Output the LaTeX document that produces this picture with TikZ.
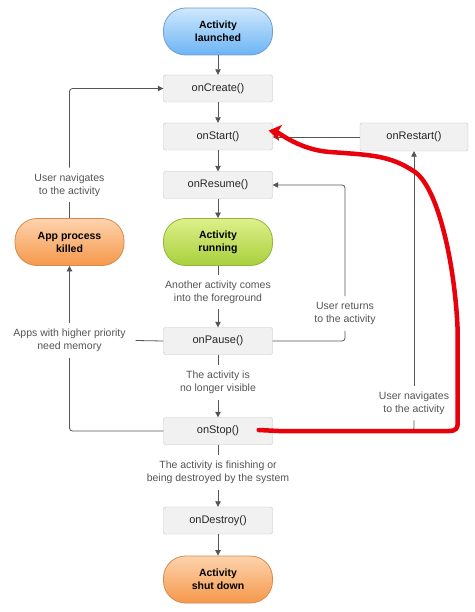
\documentclass[tikz,border=0pt]{standalone}
\usepackage{fontspec}
\setmainfont{Liberation Sans}
\usetikzlibrary{arrows.meta}
\definecolor{boxfill}{HTML}{F1F1F1}
\definecolor{boxdraw}{HTML}{C4C4C4}
\definecolor{linec}{HTML}{555555}
\definecolor{labc}{HTML}{555555}
\definecolor{bluetop}{HTML}{CFE8FD}
\definecolor{bluebot}{HTML}{6CB4F4}
\definecolor{bluedraw}{HTML}{6E9FD0}
\definecolor{greentop}{HTML}{DDF08A}
\definecolor{greenbot}{HTML}{A8D03C}
\definecolor{greendraw}{HTML}{92B43A}
\definecolor{orangetop}{HTML}{FDD3AE}
\definecolor{orangebot}{HTML}{F5984A}
\definecolor{orangedraw}{HTML}{D98A4A}
\definecolor{redline}{HTML}{E8000B}
\tikzset{
  cbbox/.style={draw=boxdraw, fill=boxfill, rounded corners=2pt, minimum width=109pt, minimum height=27pt, inner sep=0pt, font=\fontsize{11}{12}\selectfont, text=black!85},
  pill/.style={rounded corners=22pt, minimum width=109pt, minimum height=47pt, inner sep=0pt, align=center, font=\bfseries\fontsize{10.5}{13}\selectfont, line width=0.8pt},
  bluepill/.style={pill, draw=bluedraw, top color=bluetop, bottom color=bluebot},
  greenpill/.style={pill, draw=greendraw, top color=greentop, bottom color=greenbot},
  orangepill/.style={pill, draw=orangedraw, top color=orangetop, bottom color=orangebot},
  lab/.style={align=center, text=labc, font=\fontsize{10.5}{12.8}\selectfont, inner sep=6pt},
  conn/.style={draw=linec, line width=0.8pt},
  arr/.style={conn, -{Triangle[length=5.5pt,width=5.5pt]}},
  redarr/.style={draw=redline, line width=4.5pt, line cap=round, line join=round, -{Stealth[length=12pt,width=16pt,inset=3pt]}}
}
\begin{document}
\begin{tikzpicture}[x=1pt,y=-1pt]
\useasboundingbox[fill=white] (0,0) rectangle (474,612);
% main column
\node[bluepill] (launched) at (218,31.5) {Activity\\launched};
\node[cbbox] (onCreate) at (218,88.5) {onCreate()};
\node[cbbox] (onStart) at (218,136.5) {onStart()};
\node[cbbox] (onResume) at (218,185) {onResume()};
\node[greenpill] (running) at (218,242) {Activity\\running};
\node[lab] (lbAnother) at (218,292) {Another activity comes\\into the foreground};
\node[cbbox] (onPause) at (218,341) {onPause()};
\node[lab] (lbVisible) at (218,382.5) {The activity is\\no longer visible};
\node[cbbox] (onStop) at (218,431) {onStop()};
\node[lab] (lbFinish) at (218,472.5) {The activity is finishing or\\being destroyed by the system};
\node[cbbox] (onDestroy) at (218,520.5) {onDestroy()};
\node[orangepill] (shutdown) at (218,579.5) {Activity\\shut down};
% side nodes
\node[cbbox, minimum width=108pt, minimum height=28pt] (onRestart) at (414,137) {onRestart()};
\node[orangepill] (killed) at (69.5,242) {App process\\killed};
\node[lab] (lbNav1) at (69.5,185) {User navigates\\to the activity};
\node[lab] (lbApps) at (69.5,340.5) {Apps with higher priority\\need memory};
\node[lab] (lbRet) at (345,313.5) {User returns\\to the activity};
\node[lab] (lbNav2) at (414,403) {User navigates\\to the activity};
% main flow
\draw[arr] (launched) -- (onCreate);
\draw[arr] (onCreate) -- (onStart);
\draw[arr] (onStart) -- (onResume);
\draw[arr] (onResume) -- (running);
\draw[conn] (running) -- (lbAnother);
\draw[arr] (lbAnother) -- (onPause);
\draw[conn] (onPause) -- (lbVisible);
\draw[arr] (lbVisible) -- (onStop);
\draw[conn] (onStop) -- (lbFinish);
\draw[arr] (lbFinish) -- (onDestroy);
\draw[arr] (onDestroy) -- (shutdown);
% left side
\draw[conn] (killed.north) -- (lbNav1.south);
\draw[arr, rounded corners=3pt] (lbNav1.north) |- (onCreate.west);
\draw[conn] (onPause.west) -- ([xshift=4pt]lbApps.east);
\draw[conn, rounded corners=3pt] (onStop.west) -| (lbApps.south);
\draw[arr] (lbApps.north) -- (killed.south);
% right side
\draw[conn, rounded corners=3pt] (onPause.east) -| (lbRet.south);
\draw[arr, rounded corners=3pt] (lbRet.north) |- (onResume.east);
\draw[conn, rounded corners=3pt] (onStop.east) -| (lbNav2.south);
\draw[arr] (lbNav2.north) -- (onRestart.south);
\draw[arr] (onRestart.west) -- (onStart.east |- onRestart.west);
% red hand-drawn annotation
\coordinate (redA) at ([xshift=-14pt,yshift=1pt]onStop.east);
\coordinate (redB) at ([xshift=-4pt,yshift=6pt]onStart.east);
\draw[redarr] (redA) -- ++(20,1) -- ++(60,0) -- ++(110,0)
  .. controls ++(8,0) and ++(0,6) .. ++(9,-9)
  -- ++(0,-90)
  .. controls ++(-2,-60) and ++(25,18) .. (415,172)
  .. controls ++(-25,-17) and ++(40,3) .. (330,152)
  .. controls ++(-30,-2) and ++(10,2) .. (redB);
\end{tikzpicture}
\end{document}
